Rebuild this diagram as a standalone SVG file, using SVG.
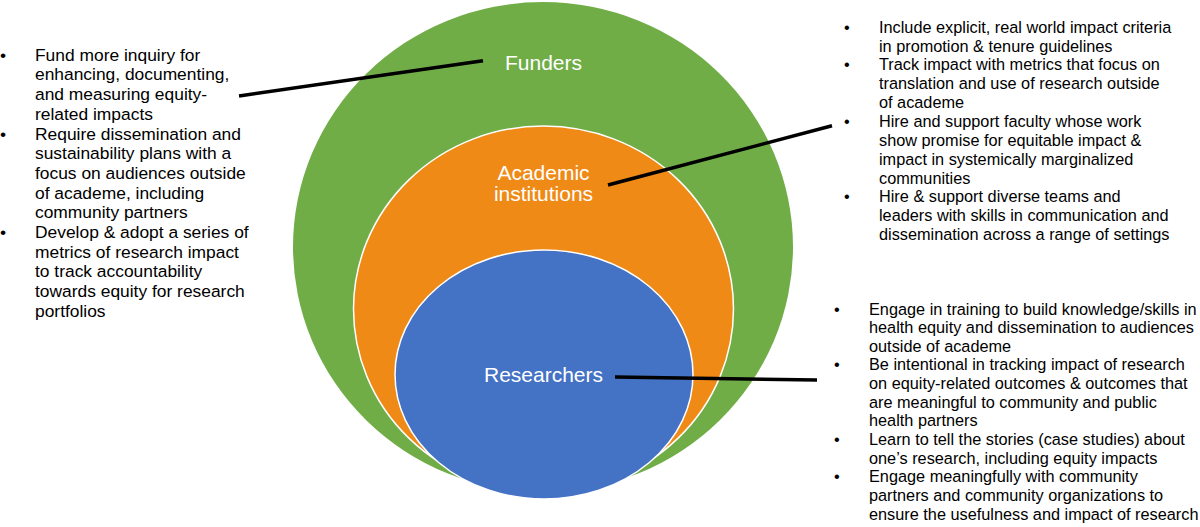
<svg xmlns="http://www.w3.org/2000/svg" width="1200" height="527" viewBox="0 0 1200 527">
<style>
.lbl{font-family:"Liberation Sans",Arial,sans-serif;font-size:21px;fill:#ffffff;text-anchor:middle}
.txt{font-family:"Liberation Sans",Arial,sans-serif;fill:#000000}
.l{font-size:17.4px}
.r{font-size:16.3px}
.conn{stroke:#000000;stroke-width:3.5;fill:none;stroke-linecap:butt}
</style>
<rect width="1200" height="527" fill="#ffffff"/>
<g id="funders">
<ellipse cx="543" cy="247" rx="250" ry="245" fill="#70AD47"/>
<text class="lbl" x="543.5" y="70">Funders</text>
</g>
<g id="academic-institutions">
<ellipse cx="543.5" cy="309" rx="190" ry="183" fill="#EF8A17" stroke="#ffffff" stroke-width="1.5"/>
<text class="lbl" x="543.5" y="180">Academic</text>
<text class="lbl" x="543.5" y="201">institutions</text>
</g>
<g id="researchers">
<ellipse cx="544" cy="374.5" rx="149" ry="124.5" fill="#4472C4" stroke="#ffffff" stroke-width="1.5"/>
<text class="lbl" x="543.5" y="382">Researchers</text>
</g>
<g id="connectors">
<line class="conn" x1="239" y1="96" x2="483" y2="60.7"/>
<line class="conn" x1="608" y1="185" x2="832" y2="125.7"/>
<line class="conn" x1="615" y1="377" x2="817" y2="380"/>
</g>
<g id="funders-text" class="txt l">
<text x="0" y="60.7">•</text>
<text x="35" y="60.7">Fund more inquiry for</text>
<text x="35" y="80.4">enhancing, documenting,</text>
<text x="35" y="100.1">and measuring equity-</text>
<text x="35" y="119.8">related impacts</text>
<text x="0" y="139.5">•</text>
<text x="35" y="139.5">Require dissemination and</text>
<text x="35" y="159.2">sustainability plans with a</text>
<text x="35" y="178.9">focus on audiences outside</text>
<text x="35" y="198.6">of academe, including</text>
<text x="35" y="218.3">community partners</text>
<text x="0" y="238">•</text>
<text x="35" y="238">Develop &amp; adopt a series of</text>
<text x="35" y="257.7">metrics of research impact</text>
<text x="35" y="277.4">to track accountability</text>
<text x="35" y="297.1">towards equity for research</text>
<text x="35" y="316.8">portfolios</text>
</g>
<g id="academic-text" class="txt r">
<text x="844" y="32.7">•</text>
<text x="879" y="32.7">Include explicit, real world impact criteria</text>
<text x="879" y="51.55">in promotion &amp; tenure guidelines</text>
<text x="844" y="70.4">•</text>
<text x="879" y="70.4">Track impact with metrics that focus on</text>
<text x="879" y="89.25">translation and use of research outside</text>
<text x="879" y="108.1">of academe</text>
<text x="844" y="126.95">•</text>
<text x="879" y="126.95">Hire and support faculty whose work</text>
<text x="879" y="145.8">show promise for equitable impact &amp;</text>
<text x="879" y="164.65">impact in systemically marginalized</text>
<text x="879" y="183.5">communities</text>
<text x="844" y="202.35">•</text>
<text x="879" y="202.35">Hire &amp; support diverse teams and</text>
<text x="879" y="221.2">leaders with skills in communication and</text>
<text x="879" y="240.05">dissemination across a range of settings</text>
</g>
<g id="researchers-text" class="txt r">
<text x="834" y="314.5">•</text>
<text x="869" y="314.5">Engage in training to build knowledge/skills in</text>
<text x="869" y="333.15">health equity and dissemination to audiences</text>
<text x="869" y="351.8">outside of academe</text>
<text x="834" y="370.45">•</text>
<text x="869" y="370.45">Be intentional in tracking impact of research</text>
<text x="869" y="389.1">on equity-related outcomes &amp; outcomes that</text>
<text x="869" y="407.75">are meaningful to community and public</text>
<text x="869" y="426.4">health partners</text>
<text x="834" y="445.05">•</text>
<text x="869" y="445.05">Learn to tell the stories (case studies) about</text>
<text x="869" y="463.7">one’s research, including equity impacts</text>
<text x="834" y="482.35">•</text>
<text x="869" y="482.35">Engage meaningfully with community</text>
<text x="869" y="501">partners and community organizations to</text>
<text x="869" y="519.65">ensure the usefulness and impact of research</text>
</g>
</svg>
